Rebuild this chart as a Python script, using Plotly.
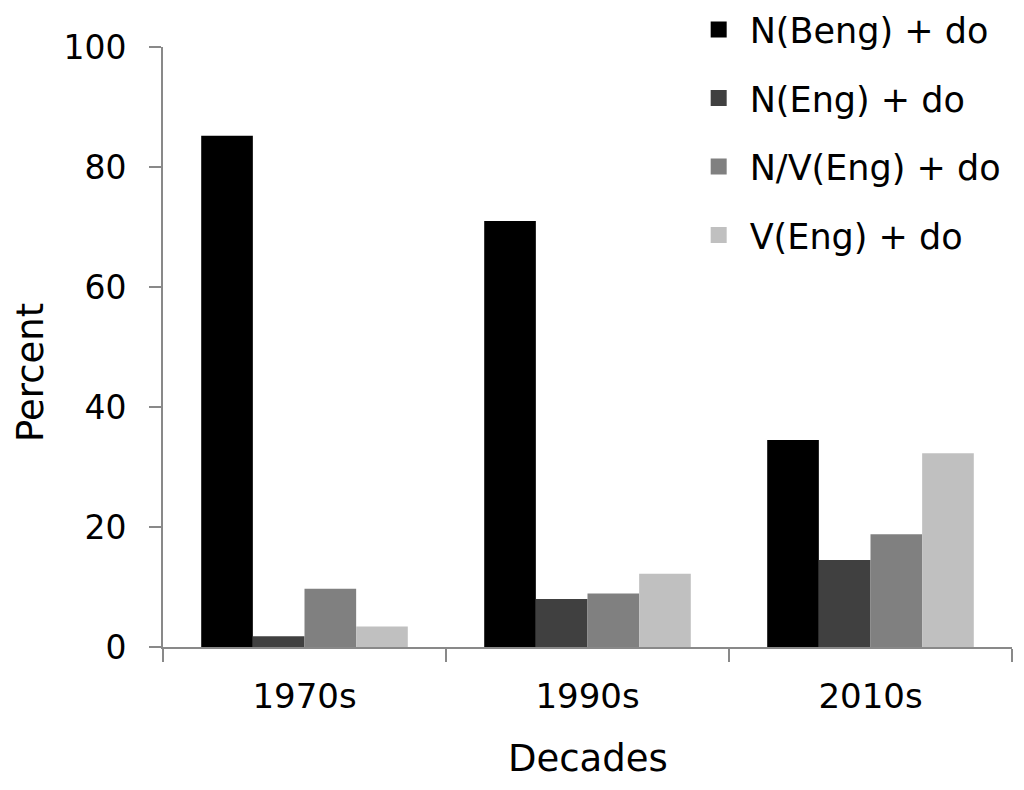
import plotly.graph_objects as go

decades = ["1970s", "1990s", "2010s"]
series_names = ["N(Beng) + do", "N(Eng) + do", "N/V(Eng) + do", "V(Eng) + do"]
n_beng_do = [85.2, 71.0, 34.5]
n_eng_do = [1.8, 8.0, 14.5]
nv_eng_do = [9.7, 8.9, 18.8]
v_eng_do = [3.4, 12.2, 32.3]
y_ticks = [0, 20, 40, 60, 80, 100]

colors = ["#000000", "#404040", "#808080", "#c0c0c0"]
values = [n_beng_do, n_eng_do, nv_eng_do, v_eng_do]

FONT = "DejaVu Sans"
fig = go.Figure()
for name, vals, col in zip(series_names, values, colors):
    fig.add_trace(go.Bar(x=decades, y=vals, name=name, marker_color=col,
                         marker_line_width=0, showlegend=False))
for i, (name, col) in enumerate(zip(series_names, colors)):
    fig.add_trace(go.Scatter(x=[None], y=[None], mode="markers", name=name,
                             marker=dict(symbol="square", size=16, color=col),
                             legendgroup=f"g{i}", showlegend=True))

fig.update_layout(
    width=1008, height=774,
    paper_bgcolor="white", plot_bgcolor="white",
    margin=dict(l=155, r=4, t=39, b=135, autoexpand=False),
    barmode="group", bargap=0.27, bargroupgap=0,
    font=dict(family=FONT, size=33, color="black"),
    legend=dict(x=0.618, y=1.078, xanchor="left", yanchor="top",
                font=dict(size=35), tracegroupgap=20, itemsizing="trace",
                itemwidth=52, bgcolor="rgba(0,0,0,0)"),
    xaxis=dict(showline=True, linecolor="#898989", linewidth=2,
               ticks="outside", tickson="boundaries", ticklen=13,
               tickcolor="#898989", tickwidth=2, automargin=False,
               ticklabelstandoff=18, tickfont=dict(size=34)),
    yaxis=dict(range=[0, 100], tickvals=y_ticks, showline=True,
               linecolor="#898989", linewidth=2, ticks="outside", ticklen=12,
               tickcolor="#898989", tickwidth=2, showgrid=False, zeroline=False,
               automargin=False, ticklabelstandoff=16, tickfont=dict(size=33)),
    annotations=[
        dict(text="Decades", xref="paper", yref="paper", x=0.5, y=-0.185,
             xanchor="center", yanchor="middle", showarrow=False,
             font=dict(size=37)),
        dict(text="Percent", xref="paper", yref="paper", x=-0.157, y=0.458,
             xanchor="center", yanchor="middle", showarrow=False,
             textangle=-90, font=dict(size=37)),
    ],
)
fig.write_html("out.html")
